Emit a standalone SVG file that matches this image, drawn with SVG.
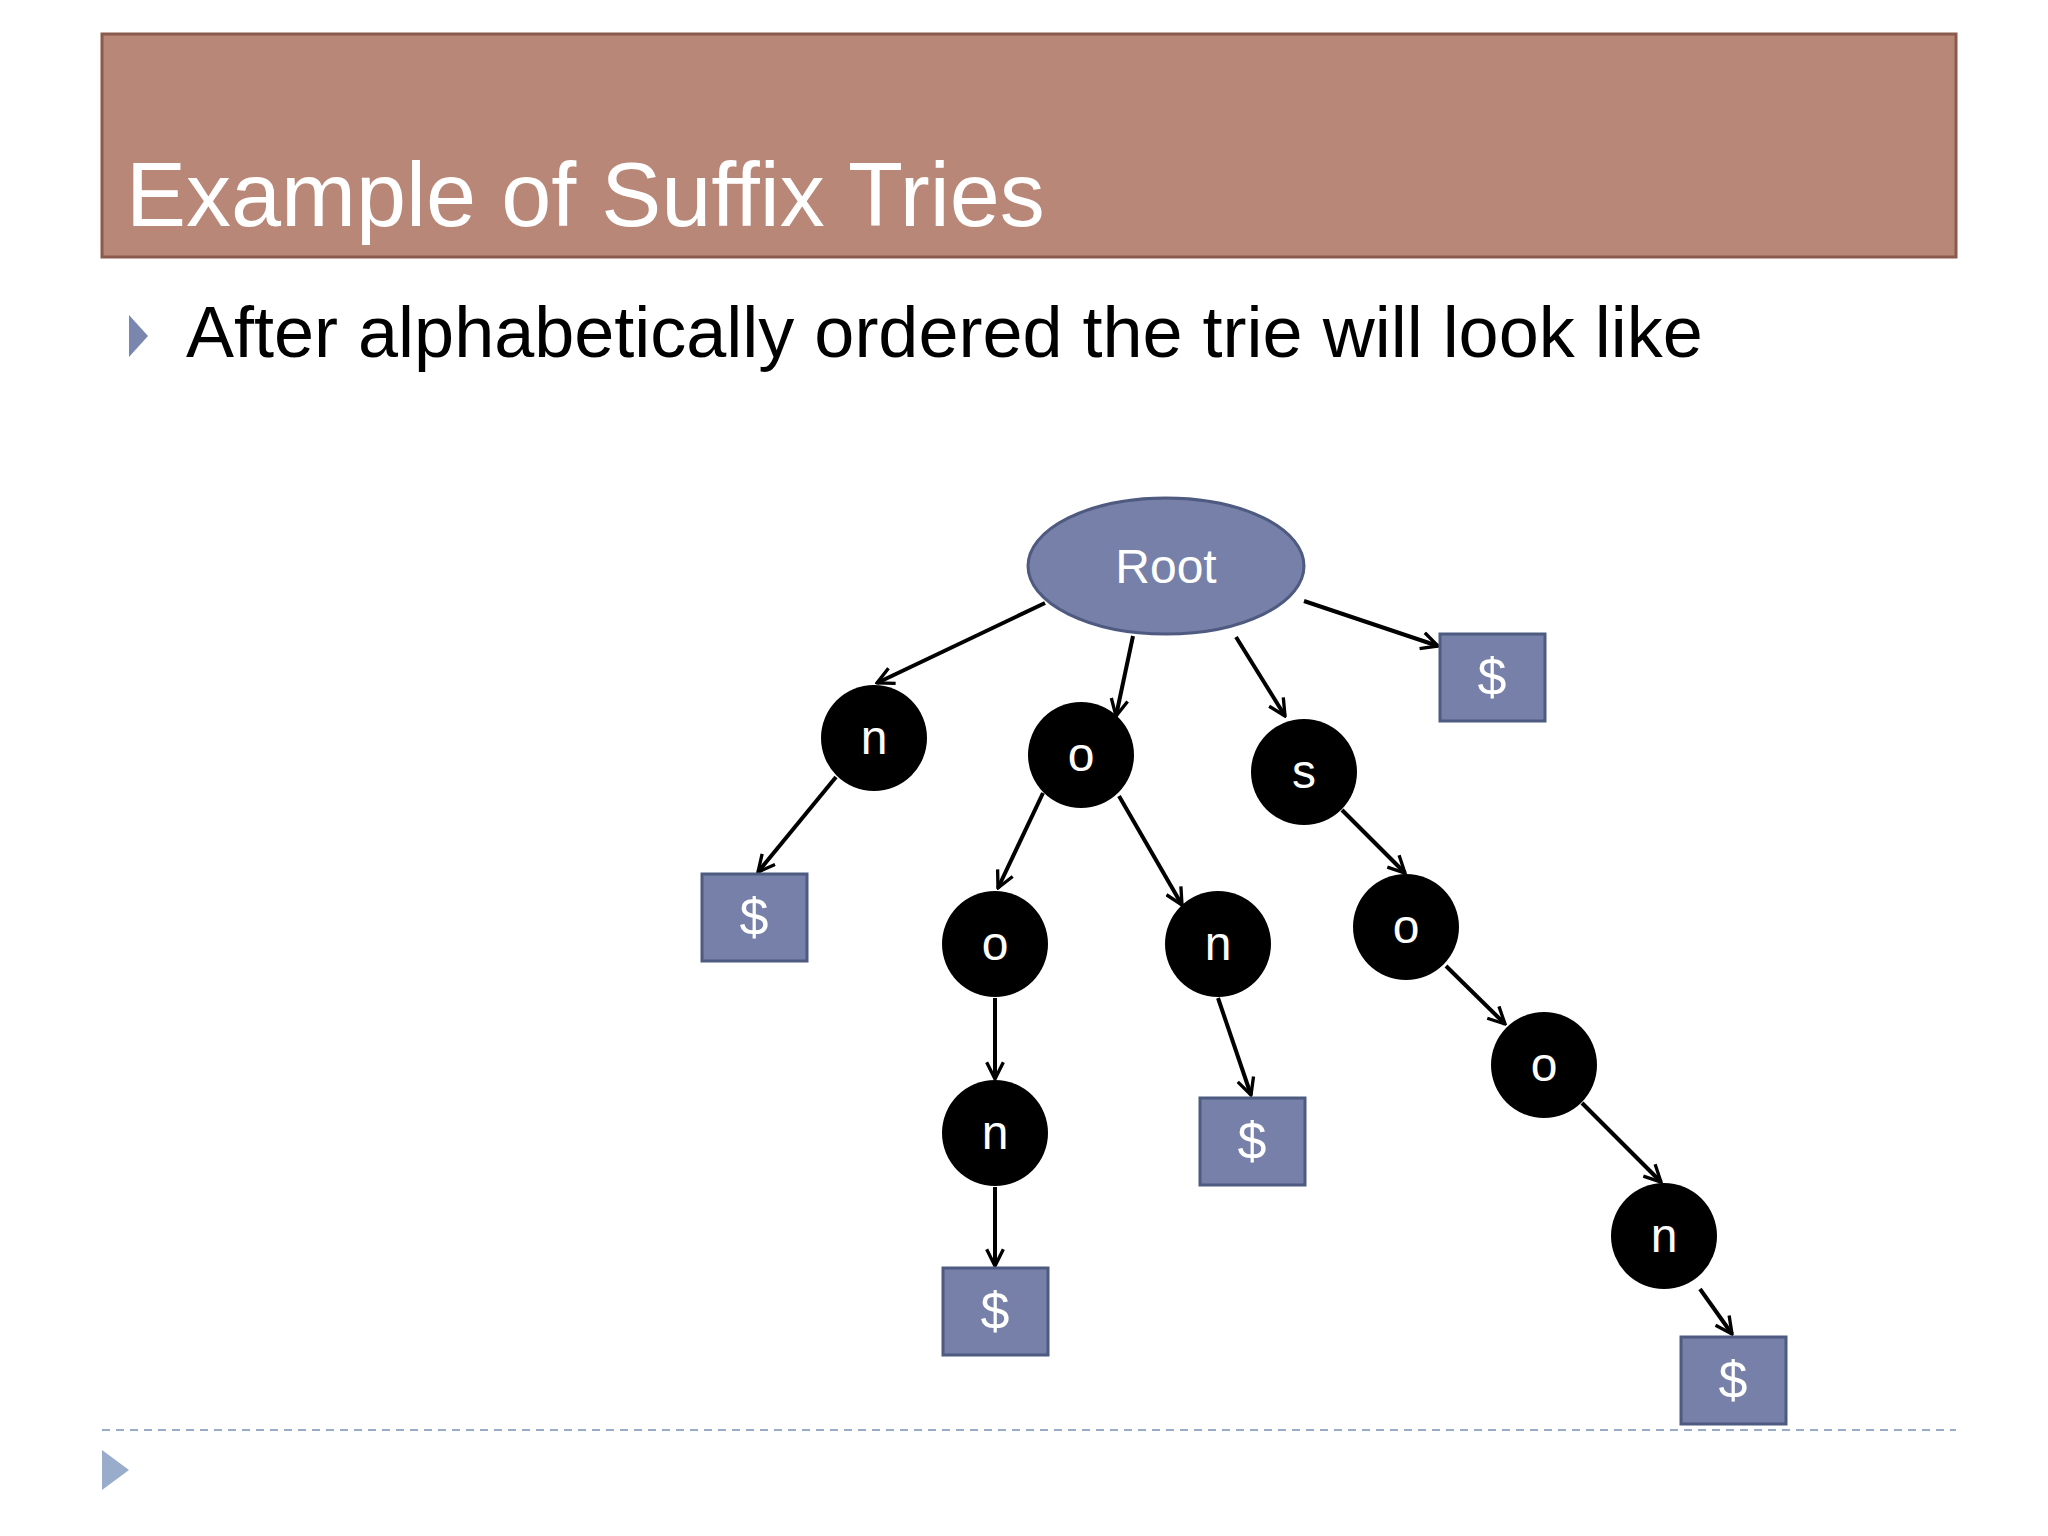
<svg xmlns="http://www.w3.org/2000/svg" width="2048" height="1536" viewBox="0 0 2048 1536">
<style>
.c{fill:#000}
.b{fill:#7680a8;stroke:#4f5a80;stroke-width:3}
.t{font-family:"Liberation Sans",Arial,sans-serif;fill:#fff;text-anchor:middle}
.l{font-size:48px}
.d{font-size:52px}
#edges line{stroke:#000;stroke-width:4;marker-end:url(#ah)}
</style>
<defs>
<marker id="ah" viewBox="0 0 12 12" refX="11" refY="6" markerWidth="5" markerHeight="5" orient="auto" markerUnits="strokeWidth">
<path d="M1,1 L11,6 L1,11" fill="none" stroke="#000" stroke-width="2"/>
</marker>
</defs>
<rect width="2048" height="1536" fill="#fff"/>
<g id="header">
<rect x="102" y="34" width="1854" height="223" fill="#b88778" stroke="#8a5a4c" stroke-width="3"/>
<text x="126" y="226" font-family="'Liberation Sans',Arial,sans-serif" font-size="90" fill="#fff">Example of Suffix Tries</text>
</g>
<g id="bullet">
<polygon points="129,315 148,336 129,357" fill="#7a86ae"/>
<text x="186" y="357" font-family="'Liberation Sans',Arial,sans-serif" font-size="72" fill="#000">After alphabetically ordered the trie will look like</text>
</g>
<g id="footer">
<line x1="102" y1="1430" x2="1956" y2="1430" stroke="#9aabc8" stroke-width="2" stroke-dasharray="8,6"/>
<polygon points="102,1450 129,1470 102,1490" fill="#9aaccc"/>
</g>
<g id="edges">
<line x1="1045" y1="603" x2="877" y2="683"/>
<line x1="1133" y1="636" x2="1116" y2="716"/>
<line x1="1236" y1="637" x2="1285" y2="716"/>
<line x1="1304" y1="601" x2="1438" y2="646"/>
<line x1="836" y1="777" x2="758" y2="872"/>
<line x1="1043" y1="793" x2="998" y2="888"/>
<line x1="1119" y1="796" x2="1182" y2="905"/>
<line x1="1342" y1="810" x2="1405" y2="873"/>
<line x1="995" y1="998" x2="995" y2="1079"/>
<line x1="1218" y1="998" x2="1251" y2="1095"/>
<line x1="1446" y1="966" x2="1505" y2="1024"/>
<line x1="995" y1="1187" x2="995" y2="1266"/>
<line x1="1582" y1="1103" x2="1661" y2="1182"/>
<line x1="1700" y1="1289" x2="1732" y2="1334"/>
</g>
<g id="root"><ellipse cx="1166" cy="566" rx="138" ry="68" class="b"/><text x="1166" y="583" class="t l">Root</text></g>
<g id="n1"><circle cx="874" cy="738" r="53" class="c"/><text x="874" y="754" class="t l">n</text></g>
<g id="o1"><circle cx="1081" cy="755" r="53" class="c"/><text x="1081" y="771" class="t l">o</text></g>
<g id="s"><circle cx="1304" cy="772" r="53" class="c"/><text x="1304" y="788" class="t l">s</text></g>
<g id="o2"><circle cx="995" cy="944" r="53" class="c"/><text x="995" y="960" class="t l">o</text></g>
<g id="n2"><circle cx="1218" cy="944" r="53" class="c"/><text x="1218" y="960" class="t l">n</text></g>
<g id="o3"><circle cx="1406" cy="927" r="53" class="c"/><text x="1406" y="943" class="t l">o</text></g>
<g id="n3"><circle cx="995" cy="1133" r="53" class="c"/><text x="995" y="1149" class="t l">n</text></g>
<g id="o4"><circle cx="1544" cy="1065" r="53" class="c"/><text x="1544" y="1081" class="t l">o</text></g>
<g id="n4"><circle cx="1664" cy="1236" r="53" class="c"/><text x="1664" y="1252" class="t l">n</text></g>
<g id="d1"><rect x="702" y="874" width="105" height="87" class="b"/><text x="754" y="935" class="t d">$</text></g>
<g id="d0"><rect x="1440" y="634" width="105" height="87" class="b"/><text x="1492" y="695" class="t d">$</text></g>
<g id="d2"><rect x="1200" y="1098" width="105" height="87" class="b"/><text x="1252" y="1159" class="t d">$</text></g>
<g id="d3"><rect x="943" y="1268" width="105" height="87" class="b"/><text x="995" y="1329" class="t d">$</text></g>
<g id="d4"><rect x="1681" y="1337" width="105" height="87" class="b"/><text x="1733" y="1398" class="t d">$</text></g>
</svg>
